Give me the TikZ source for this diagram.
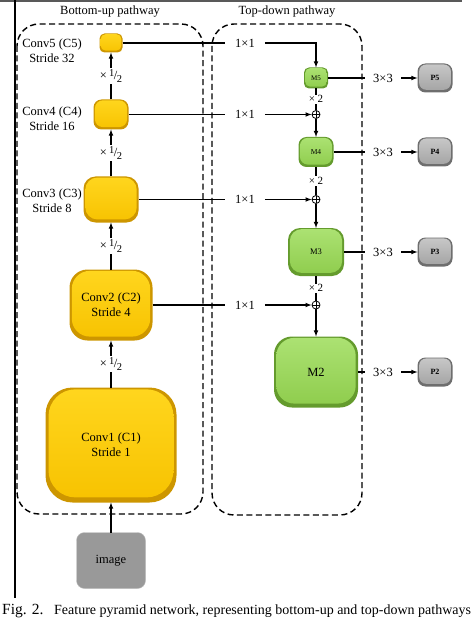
\documentclass[tikz,border=0pt]{standalone}
\usepackage{fontspec}
\setmainfont{Liberation Serif}
\usetikzlibrary{positioning}

\definecolor{ydark}{RGB}{205,150,0}
\definecolor{ytop}{RGB}{255,214,30}
\definecolor{ybot}{RGB}{247,194,0}
\definecolor{gdark}{RGB}{100,155,45}
\definecolor{gtop}{RGB}{172,226,115}
\definecolor{gbot}{RGB}{142,204,76}
\definecolor{pdark}{RGB}{110,110,110}
\definecolor{ptop}{RGB}{200,200,200}
\definecolor{pbot}{RGB}{162,162,162}

\newcommand{\halffont}{\fontsize{10.5pt}{12pt}\selectfont}
\newcommand{\halfstep}{×\,\raisebox{0.6ex}{\halffont 1}\kern-0.5pt/\kern-0.5pt\raisebox{-0.6ex}{\halffont 2}}

\begin{document}
\begin{tikzpicture}[
  x=1pt, y=-1pt,
  node distance=47pt,
  font=\fontsize{12.5pt}{15pt}\selectfont,
  bevel/.style n args={4}{path picture={\shade[top color=#1,bottom color=#2,rounded corners=#3]
      ([shift={(#4,-0.6*#4)}]path picture bounding box.north west) rectangle
      ([shift={(-#4,1.7*#4)}]path picture bounding box.south east);}},
  cnode/.style 2 args={fill=ydark,outer sep=0pt,inner sep=0pt,align=center,rounded corners=#1,bevel={ytop}{ybot}{#1}{#2}},
  mnode/.style 2 args={fill=gdark,outer sep=0pt,inner sep=0pt,rounded corners=#1,bevel={gtop}{gbot}{#1}{#2}},
  pnode/.style={fill=pdark,outer sep=0pt,inner sep=0pt,minimum width=35pt,minimum height=29pt,
      rounded corners=8pt,bevel={ptop}{pbot}{7pt}{1.6pt},font=\fontsize{8pt}{9pt}\selectfont\bfseries},
  imgbox/.style={fill=black!40,draw=black!25,minimum width=69pt,minimum height=56pt,rounded corners=8pt,outer sep=0pt},
  sum/.style={circle,draw,fill=white,inner sep=0pt,minimum size=8pt,line width=0.8pt,
      path picture={\draw[line width=0.7pt] (path picture bounding box.north) -- (path picture bounding box.south)
      (path picture bounding box.west) -- (path picture bounding box.east);}},
  kbox/.style={inner xsep=10pt,inner ysep=1pt},
  tbox/.style={inner xsep=8.5pt,inner ysep=1pt},
  pathway/.style={dash pattern=on 6pt off 3.5pt,line width=1.4pt,rounded corners=22pt},
  conn/.style={line width=1.1pt}
]
\useasboundingbox (0,0) rectangle (474,620);
\fill[black!65] (0,0) rectangle (462,2.5);
\draw[line width=1.5pt] (15,0) -- (15,598);

% pathways
\draw[pathway] (17,24) rectangle (203,514);
\draw[pathway] (212,24) rectangle (362,515);
\node (bu) at (110,12) {Bottom-up pathway};
\node (td) at (287,12) {Top-down pathway};

% bottom-up
\node[cnode={5pt}{1.1pt},minimum width=23pt,minimum height=19pt] (c5) at (111,43) {};
\node[cnode={8pt}{1.4pt},minimum width=35pt,minimum height=30pt,below=of c5] (c4) {};
\node[cnode={12pt}{1.8pt},minimum width=55pt,minimum height=46pt,below=of c4] (c3) {};
\node[cnode={18pt}{2.3pt},minimum width=83pt,minimum height=71pt,below=of c3] (c2) {Conv2 (C2)\\Stride 4};
\node[cnode={27pt}{3pt},minimum width=131pt,minimum height=115pt,below=of c2] (c1) {Conv1 (C1)\\Stride 1};
\node[imgbox,below=30pt of c1] (img) {image};

\node[align=center] (l5) at (52,51) {Conv5 (C5)\\Stride 32};
\node[align=center] (l4) at (52,119) {Conv4 (C4)\\Stride 16};
\node[align=center] (l3) at (52,201) {Conv3 (C3)\\Stride 8};

% top-down
\node[mnode={5pt}{1.1pt},minimum width=24pt,minimum height=21pt,font=\fontsize{7pt}{8pt}\selectfont] (m5) at (316,78) {M5};
\node[mnode={8pt}{1.4pt},minimum width=35pt,minimum height=30pt,font=\fontsize{7.5pt}{8pt}\selectfont] (m4) at (316,152) {M4};
\node[mnode={12pt}{1.8pt},minimum width=56pt,minimum height=48pt,font=\fontsize{8.5pt}{9pt}\selectfont] (m3) at (316,252) {M3};
\node[mnode={18pt}{2.3pt},minimum width=84pt,minimum height=71pt] (m2) at (316,372) {M2};

\node[sum] (s4) at (c4 -| m5) {};
\node[sum] (s3) at (c3 -| m5) {};
\node[sum] (s2) at (c2 -| m5) {};

\coordinate (kcol) at (245,0);
\coordinate (tcol) at (383,0);
\coordinate (pcol) at (435,0);
\node[kbox] (k5) at (c5 -| kcol) {1×1};
\node[kbox] (k4) at (c4 -| kcol) {1×1};
\node[kbox] (k3) at (c3 -| kcol) {1×1};
\node[kbox] (k2) at (c2 -| kcol) {1×1};
\node[tbox] (t5) at (m5 -| tcol) {3×3};
\node[tbox] (t4) at (m4 -| tcol) {3×3};
\node[tbox] (t3) at (m3 -| tcol) {3×3};
\node[tbox] (t2) at (m2 -| tcol) {3×3};

\node[pnode] (p5) at (m5 -| pcol) {P5};
\node[pnode] (p4) at (m4 -| pcol) {P4};
\node[pnode] (p3) at (m3 -| pcol) {P3};
\node[pnode] (p2) at (m2 -| pcol) {P2};

\path[conn] (c4) edge[-latex] node[fill=white,inner sep=1pt]{\halfstep} (c5)
(c3) edge[-latex] node[fill=white,inner sep=1pt]{\halfstep} (c4)
(c2) edge[-latex] node[fill=white,inner sep=1pt]{\halfstep} (c3)
(c1) edge[-latex] node[fill=white,inner sep=1pt]{\halfstep} (c2)
(img) edge[-latex] (c1);

\path[conn] (c5) edge (k5)
(c4) edge (k4)
(c3) edge (k3)
(c2) edge (k2)
(k4) edge[-latex] (s4)
(k3) edge[-latex] (s3)
(k2) edge[-latex] (s2);
\draw[conn,-latex] (k5) -| (m5);

\path[conn] (m5) edge node[fill=white,inner sep=1pt,font=\fontsize{11pt}{12pt}\selectfont]{× 2} (s4)
(m4) edge node[fill=white,inner sep=1pt,font=\fontsize{11pt}{12pt}\selectfont]{× 2} (s3)
(m3) edge node[fill=white,inner sep=1pt,font=\fontsize{11pt}{12pt}\selectfont]{× 2} (s2)
(s4) edge[-latex] (m4)
(s3) edge[-latex] (m3)
(s2) edge[-latex] (m2);

\path[conn] (m5) edge (t5) (t5) edge[-latex] (p5)
(m4) edge (t4) (t4) edge[-latex] (p4)
(m3) edge (t3) (t3) edge[-latex] (p3)
(m2) edge (t2) (t2) edge[-latex] (p2);

% caption
\node[anchor=base west,inner sep=0pt,font=\fontsize{15.5pt}{17pt}\selectfont] (fig) at (2,614) {Fig. 2.};
\node[anchor=base west,inner sep=0pt,font=\fontsize{14pt}{16pt}\selectfont] (cap) at (54,614) {Feature pyramid network, representing bottom-up and top-down pathways};
\end{tikzpicture}
\end{document}
